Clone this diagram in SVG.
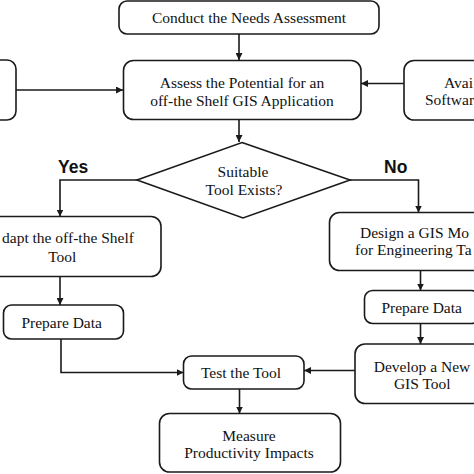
<svg xmlns="http://www.w3.org/2000/svg" width="474" height="474" viewBox="0 0 474 474">
<style>
.box{fill:#fff;stroke:#1a1a1a;stroke-width:1.6}
.t{font-family:"Liberation Serif","Times New Roman",serif;font-size:15.5px;fill:#111;text-anchor:middle}
.ts{font-family:"Liberation Serif","Times New Roman",serif;font-size:15.5px;fill:#111}
.lbl{font-family:"Liberation Sans",Arial,sans-serif;font-size:17.5px;font-weight:bold;fill:#111}
.c{fill:none;stroke:#1a1a1a;stroke-width:1.6}
</style>
<defs>
<marker id="ah" viewBox="0 0 10 10" refX="10" refY="5" markerWidth="7" markerHeight="7" markerUnits="userSpaceOnUse" orient="auto">
<path d="M0,0 L10,5 L0,10 Z" fill="#1a1a1a"/>
</marker>
</defs>
<rect width="474" height="474" fill="#fff"/>
<g id="connectors">
<path class="c" d="M239,34 V60" marker-end="url(#ah)"/>
<path class="c" d="M16,90 H123" marker-end="url(#ah)"/>
<path class="c" d="M404,83.5 H361" marker-end="url(#ah)"/>
<path class="c" d="M239,119.5 V142" marker-end="url(#ah)"/>
<path class="c" d="M137,180 H60 V216.5" marker-end="url(#ah)"/>
<path class="c" d="M350,180 H418.5 V212.5" marker-end="url(#ah)"/>
<path class="c" d="M60,276.5 V305" marker-end="url(#ah)"/>
<path class="c" d="M420.5,270.5 V290.5" marker-end="url(#ah)"/>
<path class="c" d="M420.5,323.5 V344" marker-end="url(#ah)"/>
<path class="c" d="M61,339 V372.5 H183.5" marker-end="url(#ah)"/>
<path class="c" d="M355,370.5 H304" marker-end="url(#ah)"/>
<path class="c" d="M239.5,389 V413.5" marker-end="url(#ah)"/>
</g>
<g id="needs">
<rect class="box" x="119" y="1" width="260" height="33" rx="8"/>
<text class="t" x="249" y="23">Conduct the Needs Assessment</text>
</g>
<g id="left-input">
<rect class="box" x="-60" y="60" width="76" height="60" rx="9"/>
</g>
<g id="assess">
<rect class="box" x="123.5" y="60.5" width="237.5" height="59" rx="10"/>
<text class="t" x="242" y="88">Assess the Potential for an</text>
<text class="t" x="242" y="106">off-the Shelf GIS Application</text>
</g>
<g id="available">
<rect class="box" x="404" y="60.5" width="120" height="59.5" rx="10"/>
<text class="ts" x="444" y="87.5">Avai</text>
<text class="ts" x="425" y="105">Softwar</text>
</g>
<g id="decision">
<polygon class="box" points="242,142.5 350,180 243,218 137,180"/>
<text class="t" x="243" y="176.5">Suitable</text>
<text class="t" x="244" y="195">Tool Exists?</text>
</g>
<g id="yes-label"><text class="lbl" x="58" y="173">Yes</text></g>
<g id="no-label"><text class="lbl" x="384" y="173">No</text></g>
<g id="adapt">
<rect class="box" x="-36" y="216.5" width="197" height="60" rx="10"/>
<text class="ts" x="2" y="243">dapt the off-the Shelf</text>
<text class="t" x="62.3" y="261.5">Tool</text>
</g>
<g id="design">
<rect class="box" x="329.5" y="212.5" width="190" height="58" rx="10"/>
<text class="ts" x="360" y="237.5">Design a GIS Mo</text>
<text class="ts" x="355" y="255">for Engineering Ta</text>
</g>
<g id="prepare-left">
<rect class="box" x="3.5" y="305" width="120" height="34" rx="8"/>
<text class="t" x="61.7" y="328.3">Prepare Data</text>
</g>
<g id="prepare-right">
<rect class="box" x="364.5" y="290.5" width="115" height="33" rx="8"/>
<text class="t" x="421.7" y="313.3">Prepare Data</text>
</g>
<g id="develop">
<rect class="box" x="355" y="344" width="140" height="59.5" rx="10"/>
<text class="t" x="422" y="371.7">Develop a New</text>
<text class="t" x="422.3" y="389.3">GIS Tool</text>
</g>
<g id="test">
<rect class="box" x="183.5" y="356" width="120.5" height="33" rx="8"/>
<text class="t" x="241" y="378.3">Test the Tool</text>
</g>
<g id="measure">
<rect class="box" x="159.5" y="413.5" width="181" height="58.5" rx="10"/>
<text class="t" x="249" y="440.5">Measure</text>
<text class="t" x="249" y="458.3">Productivity Impacts</text>
</g>
</svg>
